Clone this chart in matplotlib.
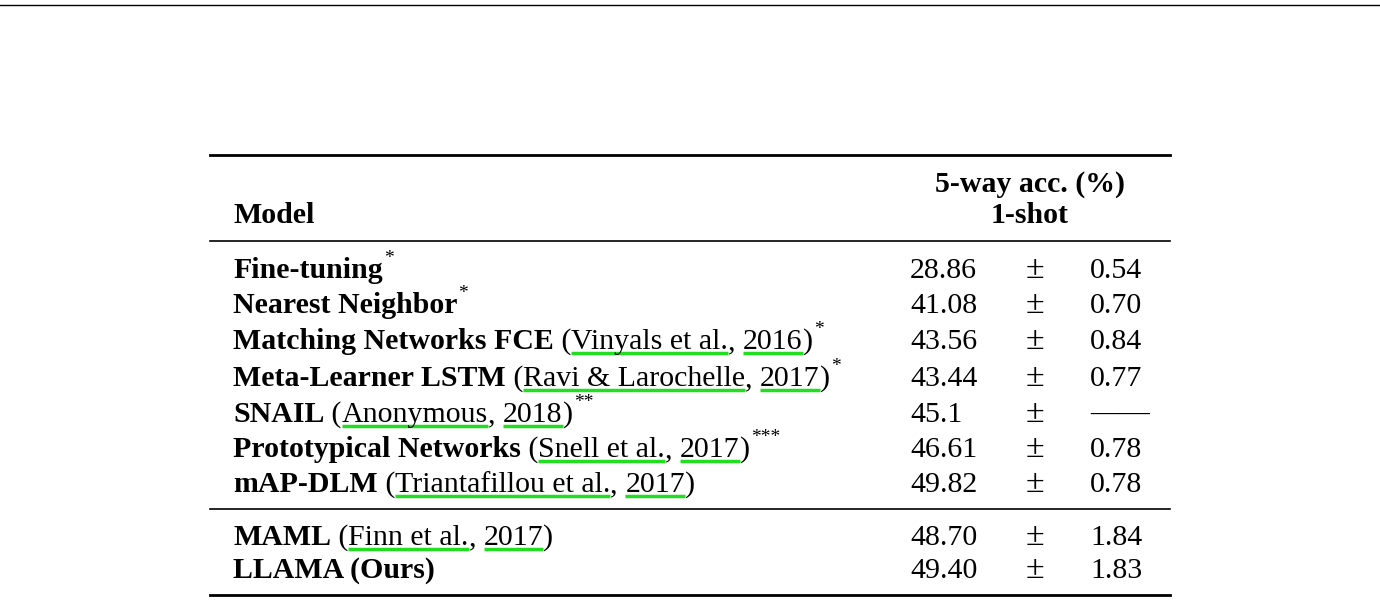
import matplotlib
matplotlib.use("Agg")
import matplotlib.pyplot as plt

plt.rcParams['font.family'] = ['Liberation Serif', 'DejaVu Serif']

# each model: list of (text, style) with style b=bold, r=regular, u=underlined citation, s=superscript
models = [
    [("Fine-tuning", "b"), ("*", "s")],
    [("Nearest Neighbor", "b"), ("*", "s")],
    [("Matching Networks FCE", "b"), (" (", "r"), ("Vinyals et al.", "u"), (", ", "r"), ("2016", "u"), (")", "r"), ("*", "s")],
    [("Meta-Learner LSTM", "b"), (" (", "r"), ("Ravi & Larochelle", "u"), (", ", "r"), ("2017", "u"), (")", "r"), ("*", "s")],
    [("SNAIL", "b"), (" (", "r"), ("Anonymous", "u"), (", ", "r"), ("2018", "u"), (")", "r"), ("**", "s")],
    [("Prototypical Networks", "b"), (" (", "r"), ("Snell et al.", "u"), (", ", "r"), ("2017", "u"), (")", "r"), ("***", "s")],
    [("mAP-DLM", "b"), (" (", "r"), ("Triantafillou et al.", "u"), (", ", "r"), ("2017", "u"), (")", "r")],
    [("MAML", "b"), (" (", "r"), ("Finn et al.", "u"), (", ", "r"), ("2017", "u"), (")", "r")],
    [("LLAMA (Ours)", "b")],
]
acc = ["28.86", "41.08", "43.56", "43.44", "45.1", "46.61", "49.82", "48.70", "49.40"]
std = ["0.54", "0.70", "0.84", "0.77", "\u2014\u2014", "0.78", "0.78", "1.84", "1.83"]
row_y = [268, 303, 339, 376, 412, 447, 482, 535, 568]

fs = 21.5
fig = plt.figure(figsize=(13.8, 6), dpi=100)
ax = fig.add_axes([0, 0, 1, 1])
ax.set_xlim(0, 1380)
ax.set_ylim(600, 0)
ax.axis('off')
fig.canvas.draw()
renderer = fig.canvas.get_renderer()

ax.plot([0, 1380], [5, 5], color='black', lw=1)
for y, lw in [(155, 2), (241, 1.2), (509, 1.2), (595, 2)]:
    ax.plot([210, 1170], [y, y], color='black', lw=lw)

ax.text(233, 223, "Model", fontsize=fs, fontweight='bold', va='baseline')
ax.text(1030, 192, "5-way acc. (%)", fontsize=fs, fontweight='bold', va='baseline', ha='center')
ax.text(1030, 223, "1-shot", fontsize=fs, fontweight='bold', va='baseline', ha='center')

for segs, y, a, s in zip(models, row_y, acc, std):
    yb = y + 10
    x = 233
    for txt, st in segs:
        if st == "s":
            t = ax.text(x + 1, yb - 15, txt, fontsize=14, va='baseline')
        else:
            t = ax.text(x, yb, txt, fontsize=fs, va='baseline',
                        fontweight='bold' if st == "b" else 'normal')
        bb = t.get_window_extent(renderer)
        w = bb.x1 - bb.x0
        if st == "u":
            ax.plot([x, x + w], [yb + 4, yb + 4], color='#22dd22', lw=2.5, solid_capstyle='butt')
        x += w
    ax.text(910, yb, a, fontsize=fs, va='baseline')
    ax.text(1035, yb, "\u00b1", fontsize=fs + 3, va='baseline', ha='center')
    ax.text(1090, yb, s, fontsize=fs, va='baseline')

fig.savefig("out.png", dpi=100)
